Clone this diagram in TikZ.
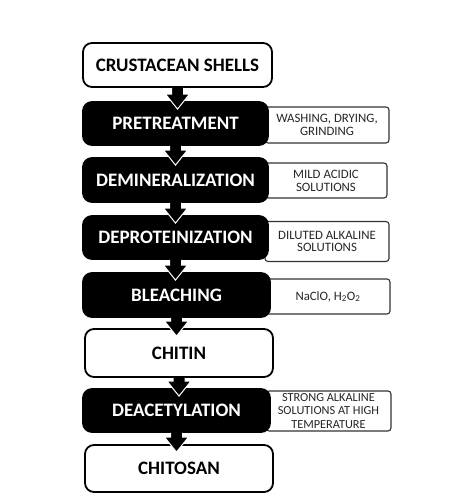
\documentclass[tikz,border=0pt]{standalone}
\usepackage{fontspec}
\setmainfont{Carlito}
\usetikzlibrary{calc}
\tikzset{
  mainbox/.style={draw=black, line width=1.8pt, rounded corners=9pt, inner sep=0pt,
    font=\bfseries\fontsize{19}{21}\selectfont, align=center},
  whitebox/.style={mainbox, fill=white, text=black},
  blackbox/.style={mainbox, fill=black, text=white},
  sidebox/.style={draw=black!80, line width=1.1pt, rounded corners=3pt, fill=white, inner sep=0pt,
    font=\fontsize{12.8}{12.8}\selectfont, align=center, text=black!85},
  blkarrow/.style={fill=black, draw=white, line width=1pt, line join=miter}
}
\newcommand{\flowarrow}[2]{%
  \path[blkarrow] let \p1=(#1.south), \p2=(#2.north) in
    (\x1-6pt,\y1) -- (\x1-6pt,\y2+7pt) -- (\x1-12pt,\y2+7pt) -- (\x1,\y2-8pt)
    -- (\x1+12pt,\y2+7pt) -- (\x1+6pt,\y2+7pt) -- (\x1+6pt,\y1);}
\begin{document}
\begin{tikzpicture}[x=1pt,y=1pt]
\useasboundingbox[fill=white] (0,0) rectangle (474,-501);
% side boxes (behind)
\node[sidebox, minimum width=124pt, minimum height=36pt] (s1) at (327,-125) {WASHING, DRYING,\\GRINDING};
\node[sidebox, minimum width=122pt, minimum height=35pt] (s2) at (326,-180.5) {MILD ACIDIC\\SOLUTIONS};
\node[sidebox, minimum width=124pt, minimum height=40pt] (s3) at (327,-241.5) {DILUTED ALKALINE\\SOLUTIONS};
\node[sidebox, minimum width=124pt, minimum height=35pt] (s4) at (328,-296.5) {NaClO, H\textsubscript{2}O\textsubscript{2}};
\node[sidebox, minimum width=125pt, minimum height=40pt, font=\fontsize{12.3}{13.3}\selectfont] (s5) at (328.5,-411) {STRONG ALKALINE\\SOLUTIONS AT HIGH\\TEMPERATURE};
% main boxes
\node[whitebox, minimum width=189pt, minimum height=44pt] (shells) at (177.5,-65) {CRUSTACEAN SHELLS};
\node[blackbox, minimum width=185pt, minimum height=43pt] (pre) at (175.5,-123.5) {PRETREATMENT};
\node[blackbox, minimum width=185pt, minimum height=44pt] (demin) at (175.5,-180) {DEMINERALIZATION};
\node[blackbox, minimum width=185pt, minimum height=43pt] (deprot) at (175.5,-237.5) {DEPROTEINIZATION};
\node[blackbox, minimum width=187pt, minimum height=44pt] (bleach) at (176.5,-295) {BLEACHING};
\node[whitebox, minimum width=188pt, minimum height=48pt] (chitin) at (179,-353) {CHITIN};
\node[blackbox, minimum width=187pt, minimum height=43pt] (deac) at (176.5,-410.5) {DEACETYLATION};
\node[whitebox, minimum width=188pt, minimum height=47pt] (chitosan) at (179,-468.5) {CHITOSAN};
% arrows
\flowarrow{shells}{pre}
\flowarrow{pre}{demin}
\flowarrow{demin}{deprot}
\flowarrow{deprot}{bleach}
\flowarrow{bleach}{chitin}
\flowarrow{chitin}{deac}
\flowarrow{deac}{chitosan}
\end{tikzpicture}
\end{document}
